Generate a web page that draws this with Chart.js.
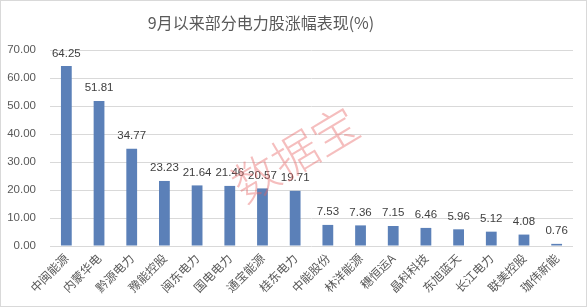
<html>
<head>
<meta charset="utf-8">
<title>9月以来部分电力股涨幅表现</title>
<script src="https://cdn.jsdelivr.net/npm/chart.js"></script>
<style>
  html, body { margin: 0; padding: 0; background: #fff; }
  #wrap { width: 588px; height: 308px; position: relative; }
</style>
</head>
<body>
<div id="wrap"><canvas id="myChart" width="588" height="308"></canvas></div>
<script>
var chartTitle = '9月以来部分电力股涨幅表现(%)';
var stocks = ['中闽能源', '内蒙华电', '黔源电力', '豫能控股', '闽东电力', '国电电力', '通宝能源', '桂东电力',
              '中能股份', '林洋能源', '穗恒运A', '晶科科技', '东旭蓝天', '长江电力', '联美控股', '珈伟新能'];
var gains = [64.25, 51.81, 34.77, 23.23, 21.64, 21.46, 20.57, 19.71, 7.53, 7.36, 7.15, 6.46, 5.96, 5.12, 4.08, 0.76];
var yTicks = [0, 10, 20, 30, 40, 50, 60, 70];
var watermark = '数据宝';

var cjk = '"Noto Sans CJK SC", "Noto Sans", sans-serif';
var num = '"Liberation Sans", Arial, sans-serif';

// title, frame, value labels and watermark
var extras = {
  id: 'extras',
  afterDatasetsDraw: function(chart) {
    var ctx = chart.ctx;
    var meta = chart.getDatasetMeta(0);
    ctx.save();
    ctx.fillStyle = '#404040';
    ctx.font = '11.5px ' + num;
    ctx.textAlign = 'center';
    ctx.textBaseline = 'bottom';
    meta.data.forEach(function(bar, i) {
      ctx.fillText(gains[i].toFixed(2), bar.x, bar.y - 7);
    });
    ctx.restore();
  },
  afterDraw: function(chart) {
    var ctx = chart.ctx;
    ctx.save();
    ctx.strokeStyle = '#d9d9d9';
    ctx.lineWidth = 1;
    ctx.strokeRect(0.5, 0.5, 586, 306);

    ctx.fillStyle = '#595959';
    ctx.font = '16px ' + cjk;
    ctx.textAlign = 'center';
    ctx.textBaseline = 'middle';
    ctx.fillText(chartTitle, 261, 23);

    ctx.translate(295, 154);
    ctx.rotate(-31 * Math.PI / 180);
    ctx.fillStyle = 'rgba(232, 100, 100, 0.42)';
    ctx.font = '300 46px ' + cjk;
    ctx.fillText(watermark, 0, 0);
    ctx.restore();
  }
};

var ctx = document.getElementById('myChart').getContext('2d');
var myChart = new Chart(ctx, {
  type: 'bar',
  data: {
    labels: stocks,
    datasets: [{
      label: '涨幅(%)',
      data: gains,
      backgroundColor: '#5b80b8',
      barPercentage: 0.33,
      categoryPercentage: 1
    }]
  },
  options: {
    responsive: false,
    animation: false,
    layout: { padding: { top: 50, right: 15, left: 0, bottom: 0 } },
    plugins: {
      legend: { display: false },
      tooltip: { enabled: false }
    },
    scales: {
      x: {
        grid: { display: false, drawTicks: false },
        border: { display: false },
        ticks: {
          color: '#595959',
          font: { size: 12, family: cjk },
          minRotation: 45,
          maxRotation: 45,
          padding: 5,
          autoSkip: false
        },
        afterFit: function(s) { s.height = 62; }
      },
      y: {
        min: 0,
        max: 70,
        afterBuildTicks: function(s) { s.ticks = yTicks.map(function(v) { return { value: v }; }); },
        grid: { color: '#d9d9d9', drawTicks: false },
        border: { display: false },
        ticks: {
          color: '#595959',
          font: { size: 11.5, family: num },
          padding: 14,
          callback: function(v) { return Number(v).toFixed(2); }
        },
        afterFit: function(s) { s.width = 50; }
      }
    }
  },
  plugins: [extras]
});
</script>
</body>
</html>
